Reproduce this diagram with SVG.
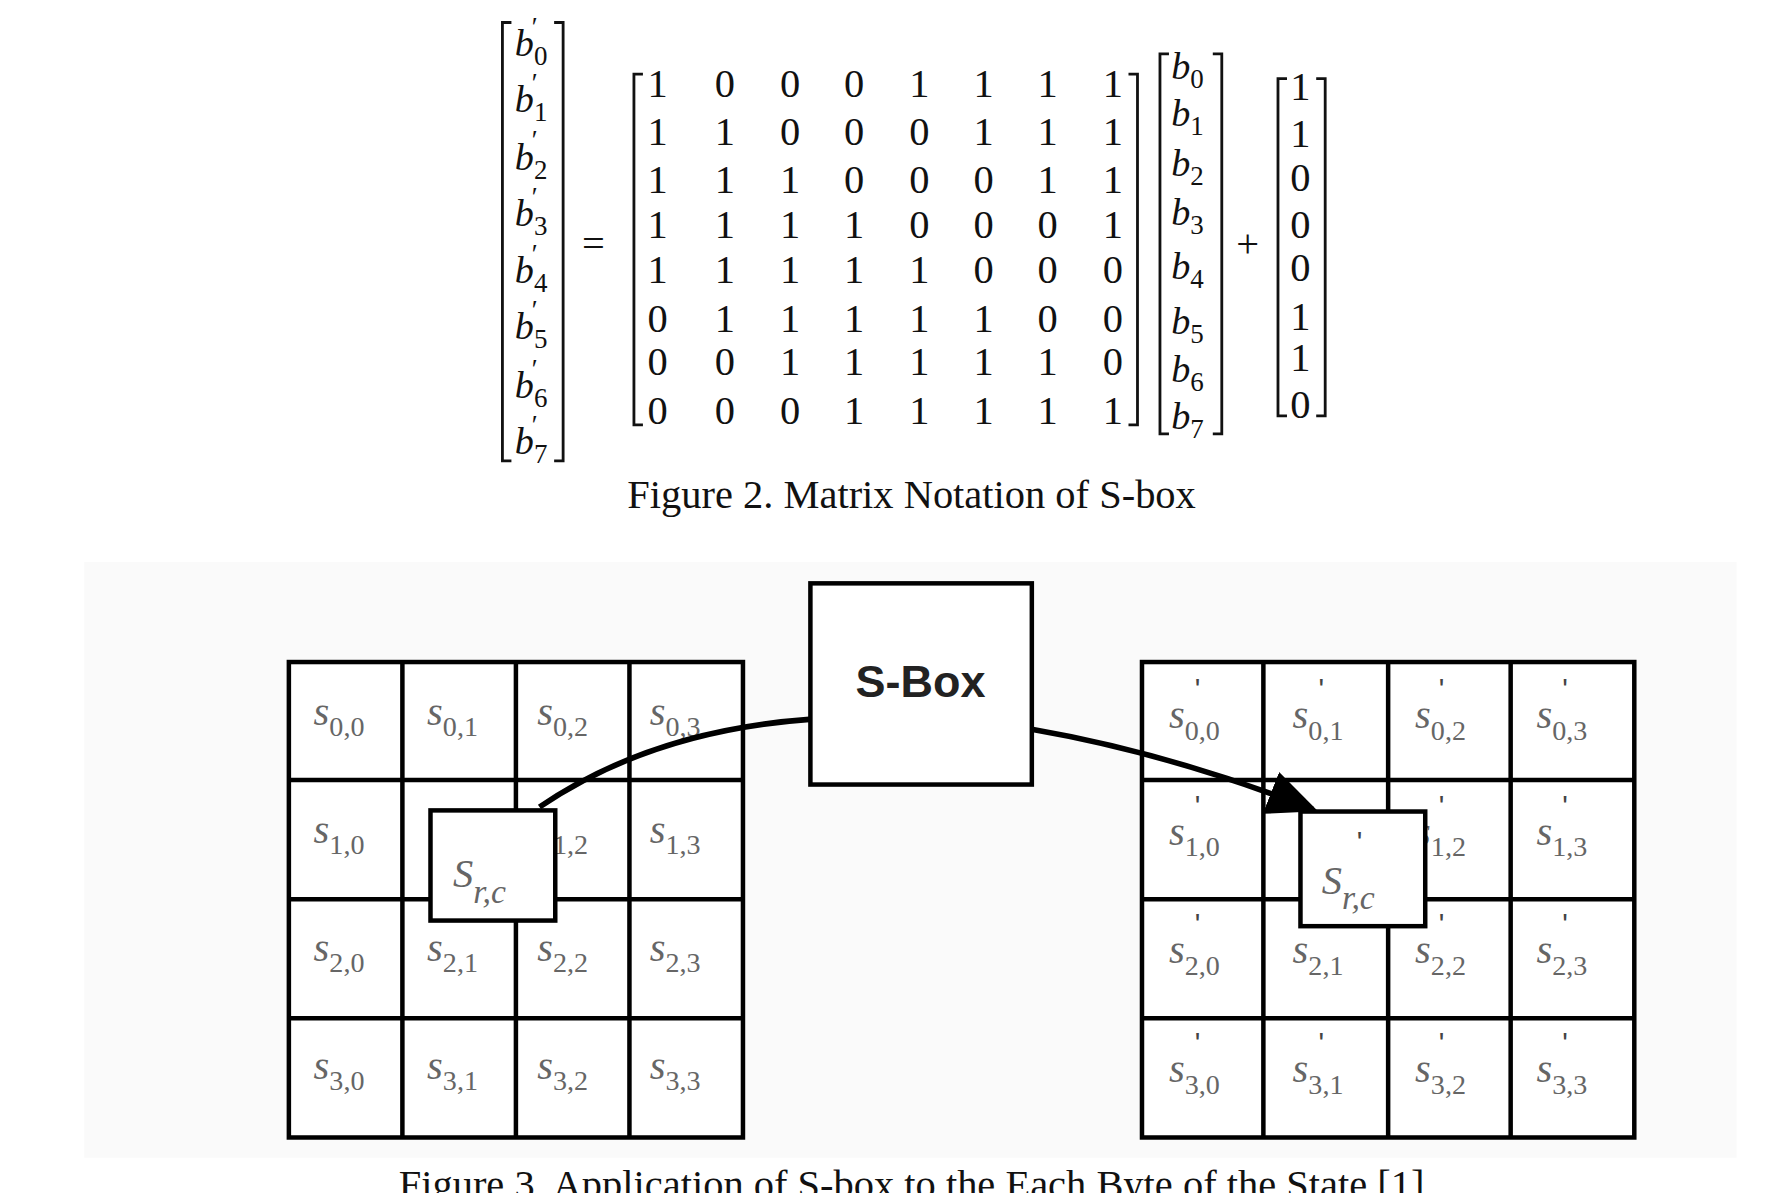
<svg xmlns="http://www.w3.org/2000/svg" width="1765" height="1193" viewBox="0 0 1765 1193">
<style>
.m{font-family:"Liberation Serif",serif;font-size:36px;fill:#111;text-anchor:middle}
.b{font-family:"Liberation Serif",serif;font-style:italic;font-size:34px;fill:#111}
.sb{font-family:"Liberation Serif",serif;font-size:24px;font-style:normal}
.cap{font-family:"Liberation Serif",serif;font-size:36px;fill:#111;text-anchor:middle}
.br{fill:none;stroke:#111;stroke-width:2.5}
.c{font-family:"Liberation Serif",serif;font-style:italic;font-size:36px;fill:#666}
.cs{font-size:25px;font-style:normal}
.g{fill:none;stroke:#000;stroke-width:4}
.k{fill:#fff;stroke:#000;stroke-width:4}
.p{font-family:"Liberation Sans",sans-serif;font-size:26px;fill:#444}
</style>
<defs>
<marker id="ah" markerWidth="10" markerHeight="10" refX="8" refY="5" orient="auto" markerUnits="strokeWidth"><path d="M0,1 L9,5 L0,9 z" fill="#000"/></marker>
</defs>
<rect width="1765" height="1193" fill="#fff"/>
<g transform="scale(1.124)">
<g id="fig2">
<path class="br" d="M455,20 H447 V410 H455 M493,20 H501 V410 H493"/>
<path class="br" d="M572,66 H564 V378 H572 M1004,66 H1012 V378 H1004"/>
<path class="br" d="M1040,48 H1032 V386 H1040 M1079,48 H1087 V386 H1079"/>
<path class="br" d="M1145,70 H1137 V370 H1145 M1171,70 H1179 V370 H1171"/>
<g class="b">
<text x="458" y="50">b<tspan class="sb" dy="8">0</tspan><tspan class="sb" dx="-14" dy="-26">′</tspan></text>
<text x="458" y="100">b<tspan class="sb" dy="8">1</tspan><tspan class="sb" dx="-14" dy="-26">′</tspan></text>
<text x="458" y="151">b<tspan class="sb" dy="8">2</tspan><tspan class="sb" dx="-14" dy="-26">′</tspan></text>
<text x="458" y="201">b<tspan class="sb" dy="8">3</tspan><tspan class="sb" dx="-14" dy="-26">′</tspan></text>
<text x="458" y="252">b<tspan class="sb" dy="8">4</tspan><tspan class="sb" dx="-14" dy="-26">′</tspan></text>
<text x="458" y="302">b<tspan class="sb" dy="8">5</tspan><tspan class="sb" dx="-14" dy="-26">′</tspan></text>
<text x="458" y="354">b<tspan class="sb" dy="8">6</tspan><tspan class="sb" dx="-14" dy="-26">′</tspan></text>
<text x="458" y="404">b<tspan class="sb" dy="8">7</tspan><tspan class="sb" dx="-14" dy="-26">′</tspan></text>
<text x="1042" y="70">b<tspan class="sb" dy="8">0</tspan></text>
<text x="1042" y="112">b<tspan class="sb" dy="8">1</tspan></text>
<text x="1042" y="157">b<tspan class="sb" dy="8">2</tspan></text>
<text x="1042" y="200">b<tspan class="sb" dy="8">3</tspan></text>
<text x="1042" y="248">b<tspan class="sb" dy="8">4</tspan></text>
<text x="1042" y="297">b<tspan class="sb" dy="8">5</tspan></text>
<text x="1042" y="340">b<tspan class="sb" dy="8">6</tspan></text>
<text x="1042" y="382">b<tspan class="sb" dy="8">7</tspan></text>
</g>
<text class="m" x="528" y="229">=</text>
<text class="m" x="1110" y="229">+</text>
<g class="m">
<text y="86"><tspan x="585">1</tspan><tspan x="645">0</tspan><tspan x="703">0</tspan><tspan x="760">0</tspan><tspan x="818">1</tspan><tspan x="875">1</tspan><tspan x="932">1</tspan><tspan x="990">1</tspan></text>
<text y="129"><tspan x="585">1</tspan><tspan x="645">1</tspan><tspan x="703">0</tspan><tspan x="760">0</tspan><tspan x="818">0</tspan><tspan x="875">1</tspan><tspan x="932">1</tspan><tspan x="990">1</tspan></text>
<text y="172"><tspan x="585">1</tspan><tspan x="645">1</tspan><tspan x="703">1</tspan><tspan x="760">0</tspan><tspan x="818">0</tspan><tspan x="875">0</tspan><tspan x="932">1</tspan><tspan x="990">1</tspan></text>
<text y="212"><tspan x="585">1</tspan><tspan x="645">1</tspan><tspan x="703">1</tspan><tspan x="760">1</tspan><tspan x="818">0</tspan><tspan x="875">0</tspan><tspan x="932">0</tspan><tspan x="990">1</tspan></text>
<text y="252"><tspan x="585">1</tspan><tspan x="645">1</tspan><tspan x="703">1</tspan><tspan x="760">1</tspan><tspan x="818">1</tspan><tspan x="875">0</tspan><tspan x="932">0</tspan><tspan x="990">0</tspan></text>
<text y="295"><tspan x="585">0</tspan><tspan x="645">1</tspan><tspan x="703">1</tspan><tspan x="760">1</tspan><tspan x="818">1</tspan><tspan x="875">1</tspan><tspan x="932">0</tspan><tspan x="990">0</tspan></text>
<text y="334"><tspan x="585">0</tspan><tspan x="645">0</tspan><tspan x="703">1</tspan><tspan x="760">1</tspan><tspan x="818">1</tspan><tspan x="875">1</tspan><tspan x="932">1</tspan><tspan x="990">0</tspan></text>
<text y="377"><tspan x="585">0</tspan><tspan x="645">0</tspan><tspan x="703">0</tspan><tspan x="760">1</tspan><tspan x="818">1</tspan><tspan x="875">1</tspan><tspan x="932">1</tspan><tspan x="990">1</tspan></text>
<text x="1157" y="89">1</text><text x="1157" y="131">1</text><text x="1157" y="170">0</text><text x="1157" y="212">0</text><text x="1157" y="250">0</text><text x="1157" y="294">1</text><text x="1157" y="330">1</text><text x="1157" y="372">0</text>
</g>
<text class="cap" x="811" y="452">Figure 2. Matrix Notation of S-box</text>
</g>
<g id="fig3">
<rect x="75" y="500" width="1470" height="530" fill="#fafafa"/>
<g id="left-grid">
<rect class="k" x="257" y="589" width="404" height="423"/>
<path class="g" d="M358,589 V1012 M459,589 V1012 M560,589 V1012 M257,694 H661 M257,800 H661 M257,906 H661"/>
<g class="c">
<text x="279" y="645">s<tspan class="cs" dy="10">0,0</tspan></text><text x="380" y="645">s<tspan class="cs" dy="10">0,1</tspan></text><text x="478" y="645">s<tspan class="cs" dy="10">0,2</tspan></text><text x="578" y="645">s<tspan class="cs" dy="10">0,3</tspan></text>
<text x="279" y="750">s<tspan class="cs" dy="10">1,0</tspan></text><text x="478" y="750">s<tspan class="cs" dy="10">1,2</tspan></text><text x="578" y="750">s<tspan class="cs" dy="10">1,3</tspan></text>
<text x="279" y="855">s<tspan class="cs" dy="10">2,0</tspan></text><text x="380" y="855">s<tspan class="cs" dy="10">2,1</tspan></text><text x="478" y="855">s<tspan class="cs" dy="10">2,2</tspan></text><text x="578" y="855">s<tspan class="cs" dy="10">2,3</tspan></text>
<text x="279" y="960">s<tspan class="cs" dy="10">3,0</tspan></text><text x="380" y="960">s<tspan class="cs" dy="10">3,1</tspan></text><text x="478" y="960">s<tspan class="cs" dy="10">3,2</tspan></text><text x="578" y="960">s<tspan class="cs" dy="10">3,3</tspan></text>
</g>
</g>
<g id="right-grid">
<rect class="k" x="1016" y="589" width="438" height="423"/>
<path class="g" d="M1124,589 V1012 M1235,589 V1012 M1344,589 V1012 M1016,694 H1454 M1016,800 H1454 M1016,906 H1454"/>
<g class="c">
<text x="1040" y="648">s<tspan class="cs" dy="10">0,0</tspan></text><text x="1150" y="648">s<tspan class="cs" dy="10">0,1</tspan></text><text x="1259" y="648">s<tspan class="cs" dy="10">0,2</tspan></text><text x="1367" y="648">s<tspan class="cs" dy="10">0,3</tspan></text>
<text x="1040" y="752">s<tspan class="cs" dy="10">1,0</tspan></text><text x="1259" y="752">s<tspan class="cs" dy="10">1,2</tspan></text><text x="1367" y="752">s<tspan class="cs" dy="10">1,3</tspan></text>
<text x="1040" y="857">s<tspan class="cs" dy="10">2,0</tspan></text><text x="1150" y="857">s<tspan class="cs" dy="10">2,1</tspan></text><text x="1259" y="857">s<tspan class="cs" dy="10">2,2</tspan></text><text x="1367" y="857">s<tspan class="cs" dy="10">2,3</tspan></text>
<text x="1040" y="963">s<tspan class="cs" dy="10">3,0</tspan></text><text x="1150" y="963">s<tspan class="cs" dy="10">3,1</tspan></text><text x="1259" y="963">s<tspan class="cs" dy="10">3,2</tspan></text><text x="1367" y="963">s<tspan class="cs" dy="10">3,3</tspan></text>
</g>
<g class="p">
<text x="1063" y="622">'</text><text x="1173" y="622">'</text><text x="1280" y="622">'</text><text x="1390" y="622">'</text>
<text x="1063" y="726">'</text><text x="1280" y="726">'</text><text x="1390" y="726">'</text>
<text x="1063" y="831">'</text><text x="1173" y="831">'</text><text x="1280" y="831">'</text><text x="1390" y="831">'</text>
<text x="1063" y="937">'</text><text x="1173" y="937">'</text><text x="1280" y="937">'</text><text x="1390" y="937">'</text>
</g>
</g>
<g id="connectors" fill="none" stroke="#000" stroke-width="5">
<path d="M480,718 Q580,650 720,640"/>
<path d="M919,649 Q1040,670 1168,720" marker-end="url(#ah)"/>
</g>
<g id="sbox">
<rect class="k" x="721" y="519" width="197" height="179"/>
<text x="819" y="620" font-family="Liberation Sans,Arial,sans-serif" font-weight="bold" font-size="40" fill="#222" text-anchor="middle">S-Box</text>
</g>
<g id="src">
<rect class="k" x="383" y="721" width="111" height="98"/>
<text class="c" x="403" y="789" font-size="44" fill="#444">S<tspan font-size="30" dy="14">r,c</tspan></text>
</g>
<g id="dst">
<rect class="k" x="1157" y="722" width="111" height="102"/>
<text class="c" x="1176" y="795" font-size="44" fill="#444">S<tspan font-size="30" dy="14">r,c</tspan></text>
<text class="p" x="1207" y="758">'</text>
</g>
<text class="cap" x="811" y="1066">Figure 3. Application of S-box to the Each Byte of the State [1]</text>
</g>
</g>
</svg>
